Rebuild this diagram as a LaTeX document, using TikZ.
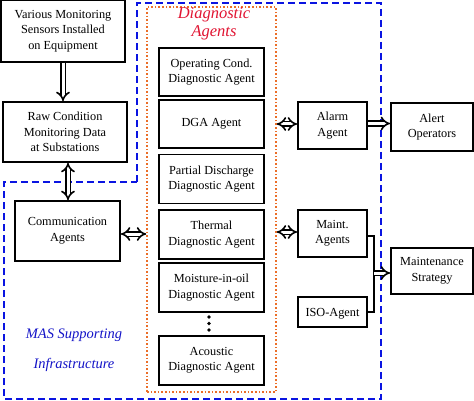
\documentclass[tikz,border=0pt]{standalone}
\usepackage{fontspec}
\setmainfont{Liberation Serif}[ItalicFont={Liberation Serif Italic}]
\usetikzlibrary{arrows.meta}
\definecolor{dashblue}{RGB}{10,20,225}
\definecolor{dotorange}{RGB}{235,110,40}
\definecolor{titlered}{RGB}{225,20,50}
\definecolor{textblue}{RGB}{20,20,200}
\begin{document}
\begin{tikzpicture}[x=1pt,y=-1pt,
  box/.style={draw=black, line width=1.8pt, align=center, inner sep=0pt,
    font=\fontsize{12.3}{15.5}\selectfont},
  dbl/.style={draw=black, line width=1.6pt, double=white, double distance=3pt},
  dblarrow/.style={dbl, {Implies}-{Implies}},
  sglarrow/.style={dbl, -{Implies}}
]
\useasboundingbox (0,0) rectangle (474,401);
\fill[white] (0,0) rectangle (474,401);

% blue dashed outline
\draw[dashblue, line width=2.6pt, dash pattern=on 7pt off 4pt]
  (137,182) -- (137,3) -- (381,3) -- (381,399) -- (4,399) -- (4,182) -- cycle;

% orange dotted box
\node[draw=dotorange, line width=1.6pt, dotted, minimum width=129pt, minimum height=385pt, inner sep=0pt] (diag) at (211.5,199.5) {};

\node[font=\fontsize{16.5}{18}\selectfont\itshape, text=titlered, align=center] (title) at (214,24) {Diagnostic\\Agents};

% left column
\node[box, minimum width=124pt, minimum height=62pt] (sensors) at (63,31) {Various Monitoring\\Sensors Installed\\on Equipment};
\node[box, minimum width=124pt, minimum height=60pt] (raw) at (65,132) {Raw Condition\\Monitoring Data\\at Substations};
\node[box, minimum width=105pt, minimum height=60pt] (comm) at (67.5,231) {Communication\\Agents};

\node[font=\fontsize{14.5}{30}\selectfont\itshape, text=textblue, align=center] (mas) at (74,350) {MAS Supporting\\Infrastructure};

% diagnostic agents
\node[box, minimum width=105pt, minimum height=48pt] (op) at (211.5,72) {Operating Cond.\\Diagnostic Agent};
\node[box, minimum width=105pt, minimum height=48pt] (dga) at (211.5,124) {DGA Agent};
\node[box, minimum width=105pt, minimum height=49pt] (pd) at (211.5,179) {Partial Discharge\\Diagnostic Agent};
\node[box, minimum width=105pt, minimum height=49pt] (th) at (211.5,234.5) {Thermal\\Diagnostic Agent};
\node[box, minimum width=105pt, minimum height=49pt] (mo) at (211.5,287.5) {Moisture-in-oil\\Diagnostic Agent};
\node[box, minimum width=105pt, minimum height=49pt] (ac) at (211.5,360.5) {Acoustic\\Diagnostic Agent};
\foreach \yy in {317,323.5,330} \fill[black] (209,\yy) circle (1.8pt);

% right side
\node[box, minimum width=69pt, minimum height=47pt] (alarm) at (332.5,125.5) {Alarm\\Agent};
\node[box, minimum width=82pt, minimum height=48pt] (alert) at (432,127) {Alert\\Operators};
\node[box, minimum width=69pt, minimum height=47pt] (maint) at (332.5,233.5) {Maint.\\Agents};
\node[box, minimum width=69pt, minimum height=30pt, text height=9pt, text depth=-1pt] (iso) at (332.5,312) {ISO-Agent};
\node[box, minimum width=82pt, minimum height=46pt] (ms) at (432,271) {Maintenance\\Strategy};

% connectors
\draw[sglarrow] (sensors.south) -- (sensors.south |- raw.north);
\draw[dblarrow] ([xshift=3pt]raw.south) -- ([xshift=3pt]raw.south |- comm.north);
\draw[dblarrow] ([yshift=-3pt]comm.east) -- ([yshift=-3pt]comm.east -| diag.west);
\draw[dblarrow] ([yshift=1.5pt]alarm.west -| diag.east) -- ([yshift=1.5pt]alarm.west);
\draw[dblarrow] ([yshift=1.5pt]maint.west -| diag.east) -- ([yshift=1.5pt]maint.west);
\draw[sglarrow] ([yshift=2pt]alarm.east) -- ([yshift=2pt]alarm.east -| alert.west);

\coordinate (jn) at (374,273);
\draw[black, line width=1.8pt] ([yshift=-2.5pt]maint.east) -- ([yshift=-2.5pt]maint.east -| jn) -- (jn |- iso.east) -- (iso.east);
\draw[sglarrow] (jn) -- (jn -| ms.west);
\end{tikzpicture}
\end{document}
